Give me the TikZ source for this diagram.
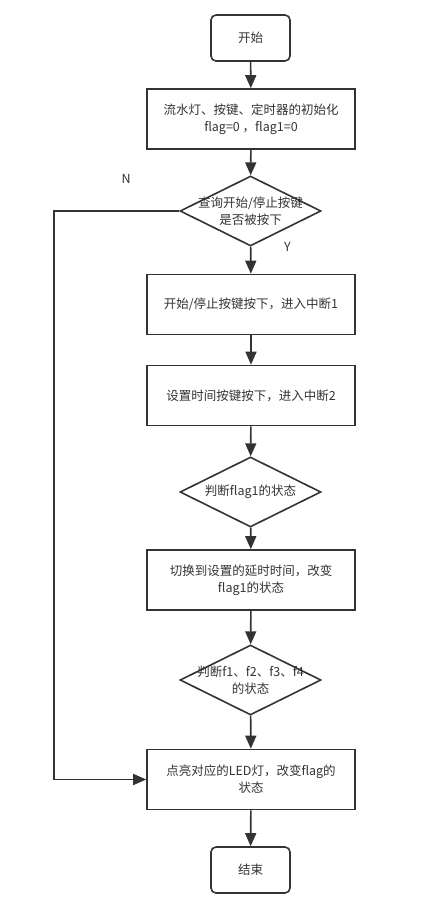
\documentclass[tikz,border=0pt]{standalone}
\usepackage{fontspec}
\setmainfont{Noto Sans CJK SC}
\usetikzlibrary{shapes.geometric,arrows.meta}
\definecolor{linegray}{HTML}{333333}

\begin{document}
\begin{tikzpicture}[x=1pt,y=1pt,
	every node/.style={font=\fontsize{12.5}{17}\selectfont, text=linegray},
	terminal/.style={draw=linegray, line width=1.6pt, rounded corners=5pt, minimum width=79pt, minimum height=46pt},
	process/.style={draw=linegray, line width=1.6pt, align=center, minimum width=208pt, minimum height=60pt},
	decision/.style={draw=linegray, line width=1.6pt, diamond, minimum width=141pt, minimum height=70pt, inner sep=0pt},
	flow/.style={draw=linegray, line width=1.6pt, -{Triangle[length=13pt,width=11pt]}}]
	\useasboundingbox (0,0) rectangle (430,-911);
	\node [terminal] (start) at (250.5,-38) {开始};
	\node [process] (init) at (251,-119) {流水灯、按键、定时器的初始化 \\ flag=0 ，flag1=0};
	\node [decision, label={[align=center]center:查询开始/停止按键 \\ 是否被按下}] (query) at (250.5,-211) {};
	\node [process] (intone) at (251,-304.5) {开始/停止按键按下，进入中断1};
	\node [process] (inttwo) at (251,-395.5) {设置时间按键按下，进入中断2};
	\node [decision, label={[align=center]center:判断flag1的状态}] (flagstate) at (250.5,-492) {};
	\node [process] (delay) at (251,-580) {切换到设置的延时时间，改变 \\ flag1的状态};
	\node [decision, label={[align=center]center:判断f1、f2、f3、f4 \\ 的状态}] (fstate) at (250.5,-680) {};
	\node [process] (led) at (251,-779.5) {点亮对应的LED灯，改变flag的 \\ 状态};
	\node [terminal] (stop) at (250.5,-870) {结束};
	\node (yes) at ([xshift=37pt]query.south) {Y};
	\node (no) at ([shift={(-53pt,32pt)}]query.west) {N};
	\draw [flow] (start) -- (init);
	\draw [flow] (init) -- (query);
	\draw [flow] (query) -- (intone);
	\draw [flow] (intone) -- (inttwo);
	\draw [flow] (inttwo) -- (flagstate);
	\draw [flow] (flagstate) -- (delay);
	\draw [flow] (delay) -- (fstate);
	\draw [flow] (fstate) -- (led);
	\draw [flow] (led) -- (stop);
	\draw [flow] (query.west) -- ++(-125pt,0) |- (led.west);
\end{tikzpicture}
\end{document}
